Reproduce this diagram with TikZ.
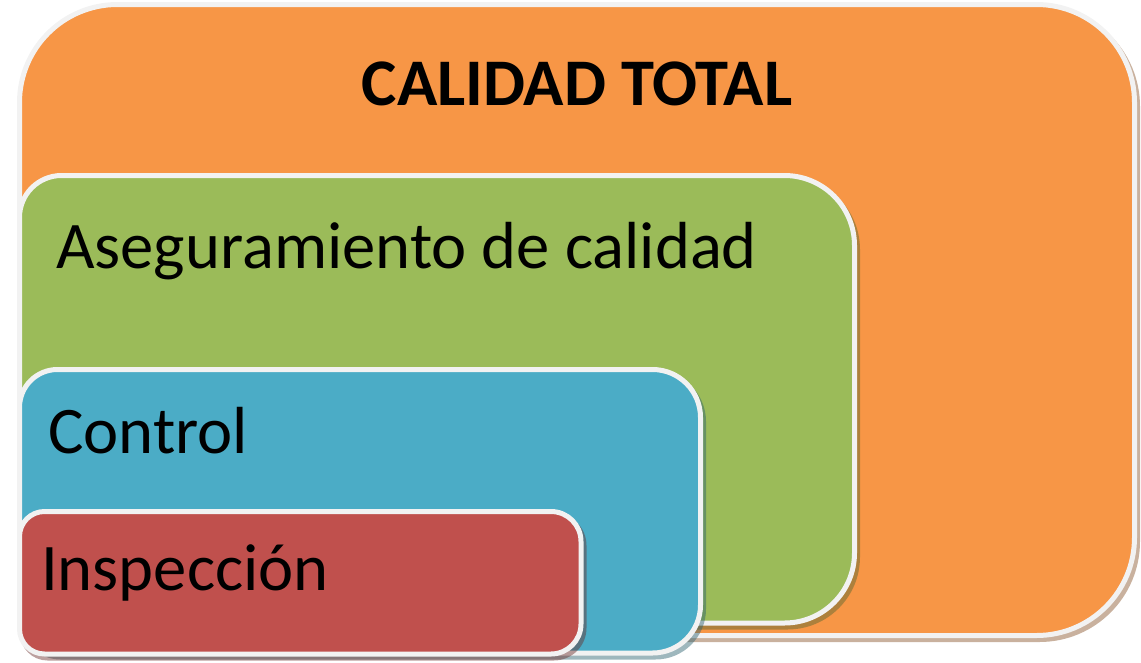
\documentclass[tikz,border=0pt]{standalone}
\usepackage{fontspec}
\setmainfont{Carlito}
\definecolor{naranja}{HTML}{F79646}
\definecolor{verde}{HTML}{9BBB59}
\definecolor{azul}{HTML}{4BACC6}
\definecolor{rojo}{HTML}{C0504D}
\definecolor{borde}{HTML}{F2F2F2}
\tikzset{
  caja/.style={fill=#1, draw=borde, line width=5pt},
  sombra/.style={fill=#1!55!black, opacity=0.45},
  rotulo/.style={anchor=base west, inner sep=0pt, font=\fontsize{66.6}{70}\selectfont},
  titulo/.style={anchor=base, inner sep=0pt, font=\fontsize{66.6}{70}\selectfont\bfseries}
}
\begin{document}
\begin{tikzpicture}[x=1pt,y=-1pt]
\useasboundingbox (0,0) rectangle (1141,662);
%\draw[very thin,style=gray!60,step=10] (0,0) grid (1141,662);
\foreach \col/\arriba/\der/\abajo/\ri/\rd in {naranja/4.5/1134.5/635.5/98/98, verde/175.5/854.5/623/42/70, azul/369.5/700.5/653/38/48, rojo/511.5/581/654/25/30}
{
\fill[sombra=\col, shift={(3,4)}] (17,{(\arriba+\abajo)/2}) [rounded corners=\ri pt+2.5pt] -- (17,\arriba-2.5) -- ({(19.5+\der)/2},\arriba-2.5)
  [rounded corners=\rd pt+2.5pt] -- (\der+2.5,\arriba-2.5) -- (\der+2.5,\abajo+2.5) -- ({(19.5+\der)/2},\abajo+2.5)
  [rounded corners=\ri pt+2.5pt] -- (17,\abajo+2.5) -- cycle;
\draw[caja=\col] (19.5,{(\arriba+\abajo)/2}) [rounded corners=\ri pt] -- (19.5,\arriba) -- ({(19.5+\der)/2},\arriba)
  [rounded corners=\rd pt] -- (\der,\arriba) -- (\der,\abajo) -- ({(19.5+\der)/2},\abajo)
  [rounded corners=\ri pt] -- (19.5,\abajo) -- cycle;
}
\node[titulo] (total) at (577,105) {CALIDAD TOTAL};
\node[rotulo] (asegura) at (56,268) {Aseguramiento de calidad};
\node[rotulo] (control) at (48,453) {Control};
\node[rotulo] (inspec) at (41,590) {Inspección};
\end{tikzpicture}
\end{document}
